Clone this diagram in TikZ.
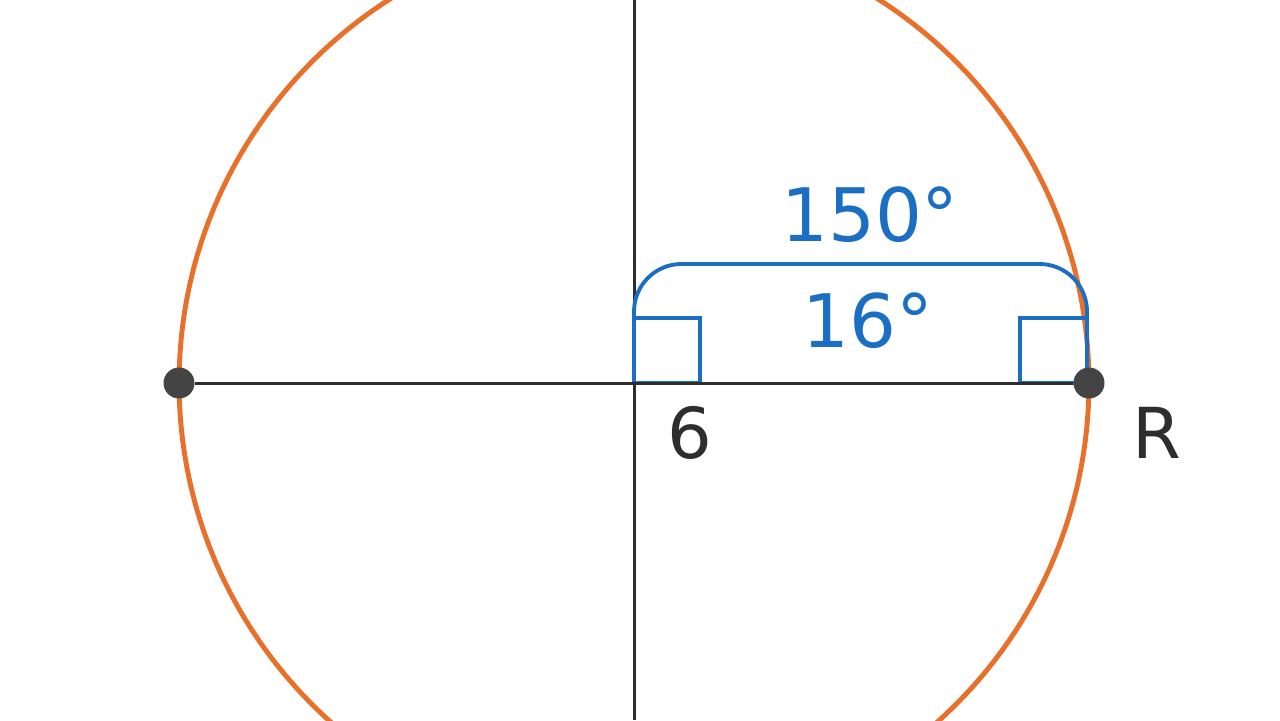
\documentclass[tikz,border=0pt]{standalone}
\usepackage{fontspec}
\setmainfont{DejaVu Sans}
\usepackage{tikz}
\usetikzlibrary{calc, positioning}

\definecolor{circleorange}{HTML}{E8702A}
\definecolor{markblue}{HTML}{1A6FC4}
\definecolor{axisgray}{HTML}{2E2E2E}
\definecolor{dotgray}{HTML}{444444}

\begin{document}
\begin{tikzpicture}[x=0.02cm,y=-0.02cm]
	\tikzset{ring/.style={draw=circleorange, line width=2.8pt},
		axis/.style={draw=axisgray, line width=1.7pt},
		bracket/.style={draw=markblue, line width=2.2pt, rounded corners=0.95cm},
		rightbox/.style={draw=markblue, line width=2.2pt},
		dot/.style={circle, fill=dotgray, inner sep=0pt, minimum size=0.62cm},
		bluelabel/.style={text=markblue, font=\fontsize{42}{48}\selectfont},
		blacklabel/.style={text=axisgray, font=\fontsize{40}{46}\selectfont}}
	\useasboundingbox (0,0) rectangle (1280,720);
	\coordinate (O) at (634,383);
	\coordinate (top) at (634,0);
	\coordinate (bot) at (634,720);
	\begin{scope}
		\clip (0,0) rectangle (1280,720);
		\draw[ring] (O) circle[radius=9.1cm];
	\end{scope}
	\draw[axis] (top) -- (bot);
	% right angle marks and the bracket
	\draw[rightbox] (O) rectangle (700,318);
	\draw[rightbox] (1020,383) rectangle (1087,318);
	\draw[bracket] (O) -- (634,264) -- (1087,264) -- (1087,383);
	\node[dot] (L) at (179,383) {};
	\node[dot] (R) at (1089,383) {};
	\draw[axis] (L) -- (R);
	\node[bluelabel] (big) at (870,215) {150°};
	\node[bluelabel] (small) at (868,321) {16°};
	\node[blacklabel] (six) at (690,433) {6};
	\node[blacklabel] (lblR) at (1157,433) {R};
\end{tikzpicture}
\end{document}
